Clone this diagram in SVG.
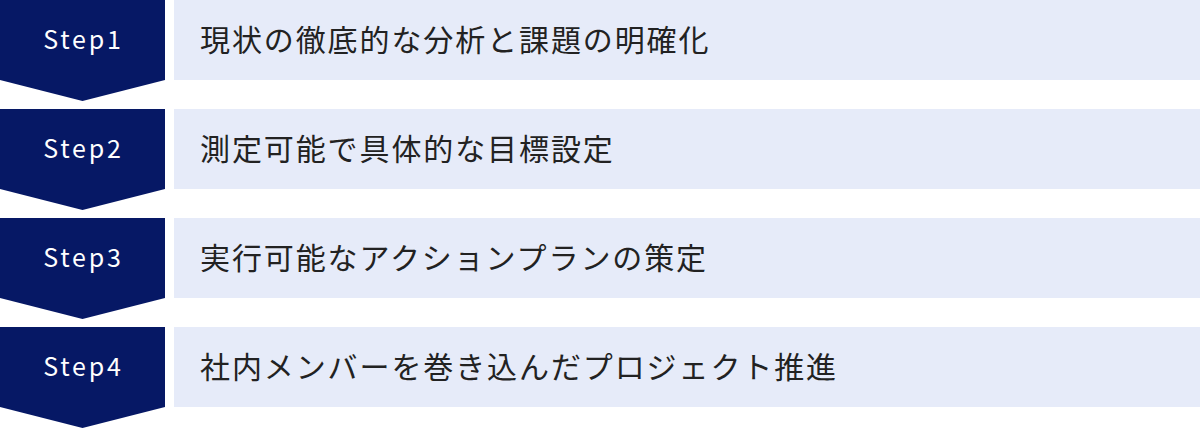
<svg xmlns="http://www.w3.org/2000/svg" width="1200" height="429" viewBox="0 0 1200 429">
<style>
.badge{fill:#061865}
.bar{fill:#e6ebf9}
.step{font-family:"Noto Sans CJK JP","Noto Sans",sans-serif;font-size:25px;fill:#ffffff;letter-spacing:2.8px;text-anchor:middle}
.label{font-family:"Noto Sans CJK JP",sans-serif;font-size:30px;fill:#222222;letter-spacing:1.9px}
</style>
<g id="step1">
<path class="badge" d="M0 0H165V80L82.5 101L0 80Z"/>
<rect class="bar" x="174" y="0" width="1026" height="80"/>
<text class="step" x="83.5" y="49">Step1</text>
<text class="label" x="200" y="51">現状の徹底的な分析と課題の明確化</text>
</g>
<g id="step2">
<path class="badge" d="M0 109H165V189L82.5 210L0 189Z"/>
<rect class="bar" x="174" y="109" width="1026" height="80"/>
<text class="step" x="83.5" y="158">Step2</text>
<text class="label" x="200" y="160">測定可能で具体的な目標設定</text>
</g>
<g id="step3">
<path class="badge" d="M0 218H165V298L82.5 319L0 298Z"/>
<rect class="bar" x="174" y="218" width="1026" height="80"/>
<text class="step" x="83.5" y="267">Step3</text>
<text class="label" x="200" y="269">実行可能なアクションプランの策定</text>
</g>
<g id="step4">
<path class="badge" d="M0 327H165V407L82.5 428L0 407Z"/>
<rect class="bar" x="174" y="327" width="1026" height="80"/>
<text class="step" x="83.5" y="376">Step4</text>
<text class="label" x="200" y="378">社内メンバーを巻き込んだプロジェクト推進</text>
</g>
<g id="connectors"></g>
</svg>
